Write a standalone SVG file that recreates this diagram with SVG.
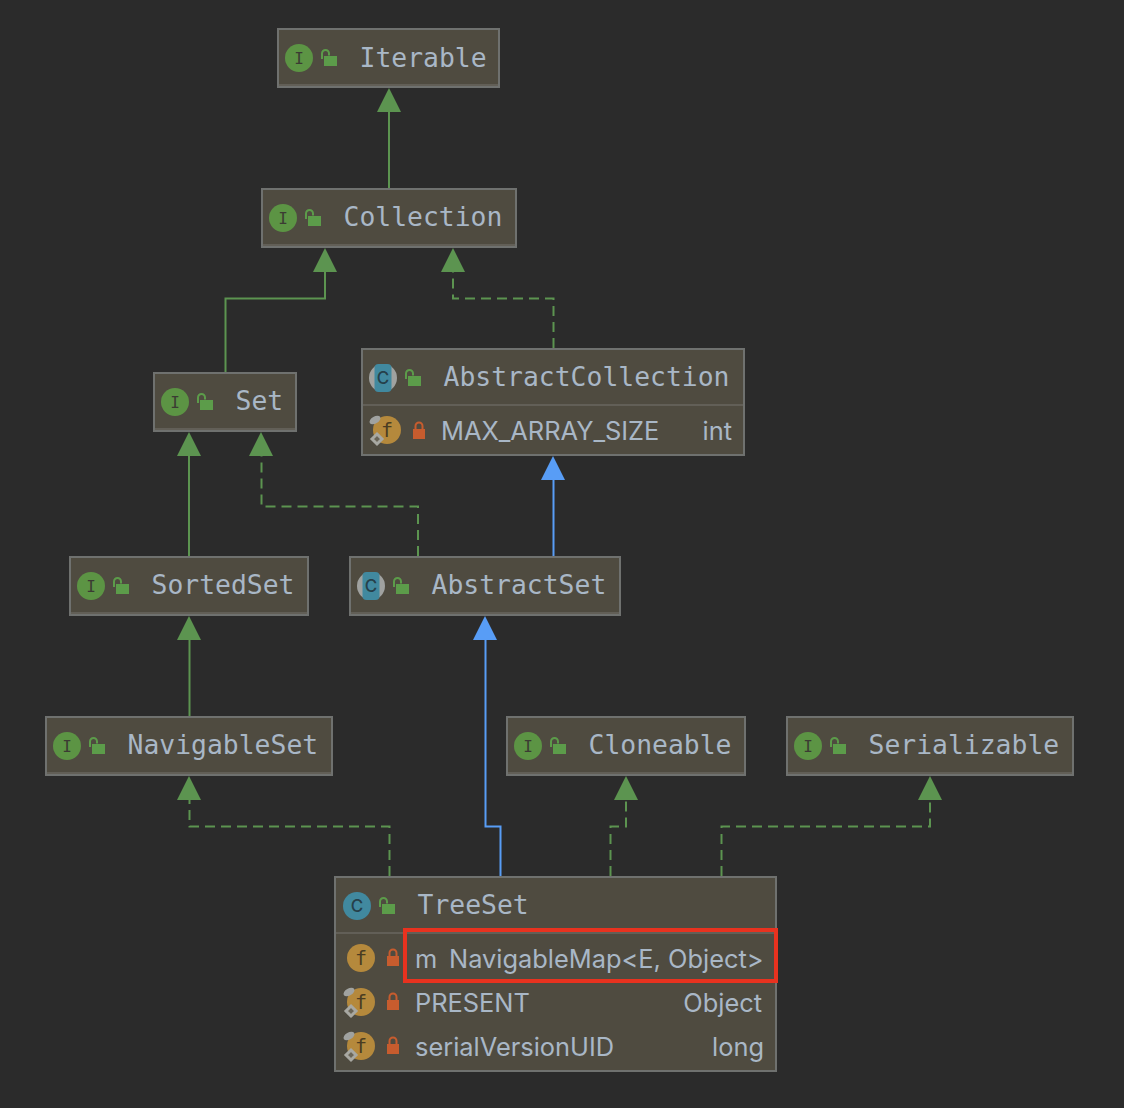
<svg xmlns="http://www.w3.org/2000/svg" width="1124" height="1108" viewBox="0 0 1124 1108">
<style>
.box{fill:#4f4b40;stroke:#6f716f;stroke-width:2}
.div{stroke:#625f57;stroke-width:2;fill:none}
.t{font-family:"DejaVu Sans Mono","Liberation Mono",monospace;font-size:26.4px;fill:#a9b7c6}
.f{font-family:"Inter","Noto Sans",sans-serif;font-size:25.4px;fill:#a9b7c6}
.e{fill:none;stroke-width:2}
.g{stroke:#5c9450}
.b{stroke:#589df6}
.d{stroke-dasharray:10 6}
.ag{fill:#5c9450}
.ab{fill:#589df6}
.ig{font-family:"DejaVu Sans Mono",monospace;font-size:16px;fill:#3b3b33;text-anchor:middle}
.ic{font-family:"Inter",sans-serif;font-size:17px;font-weight:500;fill:#26404a;text-anchor:middle}
.if{font-family:"DejaVu Sans Mono",monospace;font-size:20px;fill:#4a3c22;text-anchor:middle}
</style>
<defs>
<g id="open"><path d="M-6,-1v-5.500a3.500,3.500 0 0 1 7,0v2" fill="none" stroke="#5c9c4a" stroke-width="2"/><rect x="-4" y="-4" width="13" height="10" fill="#5c9c4a"/></g>
<g id="closed"><path d="M-3.500,-2v-3a3.500,3.500 0 0 1 7,0v3" fill="none" stroke="#c75c2e" stroke-width="2"/><rect x="-6" y="-2" width="12" height="10" fill="#c75c2e"/></g>
<g id="iI"><circle r="14" fill="#5c9444"/><text class="ig" y="6">I</text></g>
<g id="iC"><circle r="14" fill="#41899f"/><text class="ic" y="6">C</text></g>
<g id="iA"><circle r="14" fill="#a0a2a0"/><rect x="-8.500" y="-14" width="17" height="28" rx="4" fill="#41899f"/><text class="ic" y="6">C</text></g>
<g id="iF"><circle r="14" fill="#b5893c"/><text class="if" y="7">f</text></g>
<g id="iS"><circle r="14" cx="2" fill="#b5893c"/><text class="if" x="2" y="7">f</text><ellipse cx="-10" cy="-10" rx="6" ry="3.500" transform="rotate(-30 -10 -10)" fill="#a0a2a0"/><path d="M-8,4l5,5l-5,5l-5,-5z" fill="#6a6558" stroke="#a8a8a2" stroke-width="3"/></g>
<path id="ah" d="M0,0L12,24H-12Z"/>
</defs>
<rect width="1124" height="1108" fill="#2b2b2b"/>
<g id="connectors">
<path class="e g" d="M389,188V110"/><use href="#ah" class="ag" x="389" y="88"/>
<path class="e g" d="M225.500,372V298.500H325V270"/><use href="#ah" class="ag" x="325" y="248"/>
<path class="e g d" d="M553.500,348V298.500H453V270"/><use href="#ah" class="ag" x="453" y="248"/>
<path class="e g" d="M189,556V454"/><use href="#ah" class="ag" x="189" y="432"/>
<path class="e g d" d="M418,556V506.500H261.500V454"/><use href="#ah" class="ag" x="261" y="432"/>
<path class="e b" d="M553.500,556V478"/><use href="#ah" class="ab" x="553" y="456"/>
<path class="e g" d="M189.500,716V638"/><use href="#ah" class="ag" x="189" y="616"/>
<path class="e b" d="M500.500,876V826.500H485.500V638"/><use href="#ah" class="ab" x="485" y="616"/>
<path class="e g d" d="M389.500,876V826.500H189.500V798"/><use href="#ah" class="ag" x="189" y="776"/>
<path class="e g d" d="M610.500,876V826.500H626V798"/><use href="#ah" class="ag" x="626" y="776"/>
<path class="e g d" d="M721.500,876V826.500H930V798"/><use href="#ah" class="ag" x="930" y="776"/>
</g>
<g id="iterable"><rect class="box" x="278" y="29" width="221" height="58"/><path class="div" d="M279,85H498"/><use href="#iI" x="299" y="58"/><use href="#open" x="328" y="60"/><text class="t" x="359.500" y="67">Iterable</text></g>
<g id="collection"><rect class="box" x="262" y="189" width="254" height="58"/><path class="div" d="M263,245H515"/><use href="#iI" x="283" y="218"/><use href="#open" x="312" y="220"/><text class="t" x="343.500" y="226">Collection</text></g>
<g id="set"><rect class="box" x="154" y="373" width="142" height="58"/><path class="div" d="M155,429H295"/><use href="#iI" x="175" y="402"/><use href="#open" x="204" y="404"/><text class="t" x="235.500" y="410">Set</text></g>
<g id="abstractcollection"><rect class="box" x="362" y="349" width="382" height="106"/><path class="div" d="M363,405H743"/><use href="#iA" x="383" y="378"/><use href="#open" x="412" y="380"/><text class="t" x="443.500" y="386">AbstractCollection</text><use href="#iS" x="385" y="430"/><use href="#closed" x="419" y="431"/><text class="f" x="441" y="440">MAX_ARRAY_SIZE</text><text class="f" x="732" y="440" text-anchor="end">int</text></g>
<g id="sortedset"><rect class="box" x="70" y="557" width="238" height="58"/><path class="div" d="M71,613H307"/><use href="#iI" x="91" y="586"/><use href="#open" x="120" y="588"/><text class="t" x="151.500" y="594">SortedSet</text></g>
<g id="abstractset"><rect class="box" x="350" y="557" width="270" height="58"/><path class="div" d="M351,613H619"/><use href="#iA" x="371" y="586"/><use href="#open" x="400" y="588"/><text class="t" x="431.500" y="594">AbstractSet</text></g>
<g id="navigableset"><rect class="box" x="46" y="717" width="286" height="58"/><path class="div" d="M47,773H331"/><use href="#iI" x="67" y="746"/><use href="#open" x="96" y="748"/><text class="t" x="127.500" y="754">NavigableSet</text></g>
<g id="cloneable"><rect class="box" x="507" y="717" width="238" height="58"/><path class="div" d="M508,773H744"/><use href="#iI" x="528" y="746"/><use href="#open" x="557" y="748"/><text class="t" x="588.500" y="754">Cloneable</text></g>
<g id="serializable"><rect class="box" x="787" y="717" width="286" height="58"/><path class="div" d="M788,773H1072"/><use href="#iI" x="808" y="746"/><use href="#open" x="837" y="748"/><text class="t" x="868.500" y="754">Serializable</text></g>
<g id="treeset"><rect class="box" x="335" y="877" width="441" height="194"/><path class="div" d="M336,933H775"/><use href="#iC" x="357" y="906"/><use href="#open" x="386" y="908"/><text class="t" x="417.500" y="914">TreeSet</text>
<use href="#iF" x="361" y="958"/><use href="#closed" x="393" y="958"/><text class="f" x="415" y="968">m</text><text class="f" x="449" y="968">NavigableMap&lt;E, Object&gt;</text>
<use href="#iS" x="359" y="1002"/><use href="#closed" x="393" y="1002"/><text class="f" x="415" y="1012">PRESENT</text><text class="f" x="762" y="1012" text-anchor="end">Object</text>
<use href="#iS" x="359" y="1046"/><use href="#closed" x="393" y="1046"/><text class="f" x="415" y="1056">serialVersionUID</text><text class="f" x="764" y="1056" text-anchor="end">long</text></g>
<rect id="highlight" x="405" y="930" width="371" height="51" fill="none" stroke="#e8321f" stroke-width="4"/>
</svg>
